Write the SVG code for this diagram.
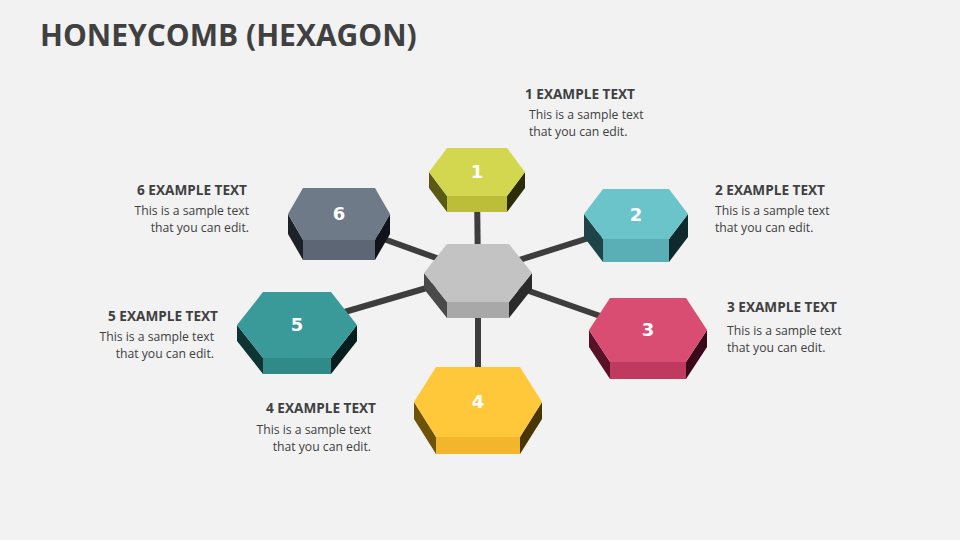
<svg xmlns="http://www.w3.org/2000/svg" width="960" height="540" viewBox="0 0 960 540">
<style>
.t{font-family:"Open Sans","Liberation Sans",sans-serif;fill:#404040}
.h{font-weight:bold;font-size:13.6px}
.b{font-size:12.2px}
.n{font-family:"DejaVu Sans",sans-serif;font-weight:bold;font-size:18px;fill:#fff;text-anchor:middle}
.c line{stroke:#3d3d3d;stroke-width:6}
</style>
<rect width="960" height="540" fill="#f2f2f2"/>
<text x="40" y="46" class="t" font-weight="bold" font-size="30">HONEYCOMB (HEXAGON)</text>
<g id="connectors" class="c">
<line x1="478" y1="273" x2="477" y2="190"/>
<line x1="478" y1="273" x2="630" y2="225"/>
<line x1="478" y1="273" x2="640" y2="330"/>
<line x1="478" y1="273" x2="478" y2="400"/>
<line x1="478" y1="273" x2="300" y2="325"/>
<line x1="478" y1="273" x2="345" y2="225"/>
</g>
<g id="center">
<path d="M424,273 L447,302 L447,318 L424,289Z" fill="#4a4a4a"/>
<path d="M532,273 L509,302 L509,318 L532,289Z" fill="#2a2a2a"/>
<path d="M447,302 L509,302 L509,318 L447,318Z" fill="#a8a8a8"/>
<path d="M447,244 L509,244 L532,273 L509,302 L447,302 L424,273Z" fill="#c3c3c3"/>
</g>
<g id="hex1">
<path d="M429,172 L447,196 L447,212 L429,188Z" fill="#5a5a12"/>
<path d="M525,172 L507,196 L507,212 L525,188Z" fill="#2c2c08"/>
<path d="M447,196 L507,196 L507,212 L447,212Z" fill="#bcbe3a"/>
<path d="M447,148 L507,148 L525,172 L507,196 L447,196 L429,172Z" fill="#d3d74f"/>
<text x="477" y="178" class="n">1</text>
</g>
<g id="hex2">
<path d="M584,214 L603,239 L603,262 L584,237Z" fill="#1e4448"/>
<path d="M688,214 L669,239 L669,262 L688,237Z" fill="#0f2a2c"/>
<path d="M603,239 L669,239 L669,262 L603,262Z" fill="#5aaeb5"/>
<path d="M603,189 L669,189 L688,214 L669,239 L603,239 L584,214Z" fill="#6cc4cb"/>
<text x="636" y="221" class="n">2</text>
</g>
<g id="hex3">
<path d="M589,330 L610,362 L610,379 L589,347Z" fill="#5a1026"/>
<path d="M707,330 L686,362 L686,379 L707,347Z" fill="#3a0818"/>
<path d="M610,362 L686,362 L686,379 L610,379Z" fill="#c03a60"/>
<path d="M610,298 L686,298 L707,330 L686,362 L610,362 L589,330Z" fill="#d94d73"/>
<text x="648" y="336" class="n">3</text>
</g>
<g id="hex4">
<path d="M414,402 L436,437 L436,454 L414,419Z" fill="#6e5208"/>
<path d="M542,402 L520,437 L520,454 L542,419Z" fill="#4a3604"/>
<path d="M436,437 L520,437 L520,454 L436,454Z" fill="#f2b52c"/>
<path d="M436,367 L520,367 L542,402 L520,437 L436,437 L414,402Z" fill="#ffc83a"/>
<text x="478" y="408" class="n">4</text>
</g>
<g id="hex5">
<path d="M237,325 L263,358 L263,374 L237,341Z" fill="#0e3434"/>
<path d="M357,325 L331,358 L331,374 L357,341Z" fill="#061e1e"/>
<path d="M263,358 L331,358 L331,374 L263,374Z" fill="#2f8a88"/>
<path d="M263,292 L331,292 L357,325 L331,358 L263,358 L237,325Z" fill="#3a9a9a"/>
<text x="297" y="331" class="n">5</text>
</g>
<g id="hex6">
<path d="M288,214 L303,240 L303,260 L288,234Z" fill="#1e2228"/>
<path d="M390,214 L375,240 L375,260 L390,234Z" fill="#101318"/>
<path d="M303,240 L375,240 L375,260 L303,260Z" fill="#5c6674"/>
<path d="M303,188 L375,188 L390,214 L375,240 L303,240 L288,214Z" fill="#6e7a88"/>
<text x="339" y="220" class="n">6</text>
</g>
<g id="label1" class="t"><text x="525" y="99" class="h">1 EXAMPLE TEXT</text><text x="529" y="119" class="b">This is a sample text</text><text x="529" y="136" class="b">that you can edit.</text></g>
<g id="label2" class="t"><text x="715" y="195" class="h">2 EXAMPLE TEXT</text><text x="715" y="215" class="b">This is a sample text</text><text x="715" y="232" class="b">that you can edit.</text></g>
<g id="label3" class="t"><text x="727" y="312" class="h">3 EXAMPLE TEXT</text><text x="727" y="335" class="b">This is a sample text</text><text x="727" y="352" class="b">that you can edit.</text></g>
<g id="label4" class="t" text-anchor="end"><text x="376" y="413" class="h">4 EXAMPLE TEXT</text><text x="371" y="434" class="b">This is a sample text</text><text x="371" y="451" class="b">that you can edit.</text></g>
<g id="label5" class="t" text-anchor="end"><text x="218" y="321" class="h">5 EXAMPLE TEXT</text><text x="214" y="341" class="b">This is a sample text</text><text x="214" y="358" class="b">that you can edit.</text></g>
<g id="label6" class="t" text-anchor="end"><text x="247" y="195" class="h">6 EXAMPLE TEXT</text><text x="249" y="215" class="b">This is a sample text</text><text x="249" y="232" class="b">that you can edit.</text></g>
</svg>
